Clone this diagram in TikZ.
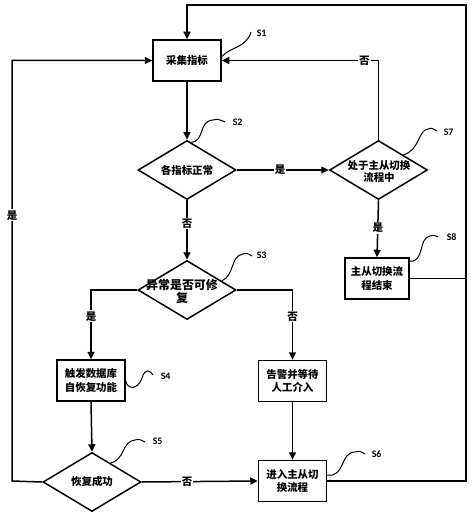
\documentclass[tikz,border=0pt]{standalone}
\usepackage{fontspec}
\newfontfamily\cjk{Noto Sans CJK SC}
\newfontfamily\latinlab{Carlito}
\usetikzlibrary{shapes.geometric,arrows.meta,calc}
\begin{document}
\begin{tikzpicture}[x=1bp,y=-1bp,
  line width=1.5bp,
  box/.style={draw, rectangle, minimum width=68bp, minimum height=41bp, inner sep=0pt, align=center, font=\cjk\bfseries\fontsize{10.5}{13.5}\selectfont},
  dia/.style={draw, diamond, minimum width=98bp, minimum height=59bp, inner sep=0pt},
  dtxt/.style={align=center, inner sep=0pt, font=\cjk\bfseries\fontsize{10.5}{13}\selectfont},
  arr/.style={-{Triangle[length=7.5bp,width=7bp]}},
  yn/.style={fill=white, inner sep=1bp, font=\cjk\bfseries\fontsize{10.5}{12}\selectfont},
  tag/.style={anchor=west, inner sep=0pt, font=\latinlab\bfseries\fontsize{10}{11}\selectfont},
  lead/.style={line width=1bp}
]
\useasboundingbox (0,0) rectangle (474,515);
\fill[white] (0,0) rectangle (474,515);

% nodes
\node[box] (s1) at (187,60.5) {采集指标};
\node[dia] (s2) at (187,170) {};
\node[dtxt] at (s2) {各指标正常};
\node[dia] (s7) at (378.5,170) {};
\node[dtxt] at (379,171.5) {处于主从切换\\流程中};
\node[box, minimum width=64bp] (s8) at (377,278.5) {主从切换流\\程结束};
\node[dia] (s3) at (187,290) {};
\node[dtxt, font=\cjk\bfseries\fontsize{12}{13}\selectfont] at (182,291.5) {异常是否可修\\复};
\node[box] (s4) at (91,380.5) {触发数据库\\自恢复功能};
\node[box] (s9) at (292.5,381) {告警并等待\\人工介入};
\node[dia] (s5) at (92,482) {};
\node[dtxt] at (s5) {恢复成功};
\node[box] (s6) at (292.5,481) {进入主从切\\换流程};

% helper coordinates
\coordinate (lc) at (12,481);
\coordinate (rc) at (466,481);
\coordinate (tc) at (466,5);

% connectors
\draw[arr] (s1.south) -- (s2.north);
\draw[arr] (s2.east) -- node[yn, pos=0.47]{是} (s7.west);
\draw[arr] (s7.north) |- node[yn, pos=0.545]{否} (s1.east);
\draw[arr] (s7.south) -- node[yn, pos=0.49]{是} (s8.north);
\draw (s8.east) -- (s8.east -| rc);
\draw[arr] (s2.south) -- node[yn, pos=0.39]{否} (s3.north);
\draw[arr] (s3.west) -| node[yn, pos=0.69]{是} (s4.north);
\draw[arr] (s3.east) -| node[yn, pos=0.69]{否} (s9.north);
\draw[arr] (s4.south) -- (s5.north);
\draw[arr] (s9.south) -- (s6.north);
\draw[arr] (s5.east) -- node[yn, pos=0.39]{否} (s6.west);
\draw[arr] (s5.west) -- (lc) |- node[yn, pos=0.316]{是} (s1.west);
\draw[arr] (s6.east) -- (rc) -- (tc) -| (s1.north);

% step tags with leader curves
\draw[lead] ($(s1.east)+(0,-4)$) .. controls (232,46) and (246,48) .. (251,32);
\node[tag] (t1) at (256,33) {S1};
\draw[lead] ($(s2.north)!0.08!(s2.east)$) .. controls (205,142) and (198,121) .. (213,120) .. controls (218,119) .. (225,122);
\node[tag] (t2) at (232,122) {S2};
\draw[lead] (s7.north east) .. controls (420,150) and (418,130) .. (428,129) .. controls (432,128) .. (437,131);
\node[tag] (t7) at (443,132) {S7};
\draw[lead] ($(s8.north east)+(0,4)$) .. controls (425,262) and (418,238) .. (430,236) .. controls (434,235) .. (438,237);
\node[tag] (t8) at (446,237) {S8};
\draw[lead] ($(s3.north)!0.7!(s3.east)$) .. controls (235,275) and (230,256) .. (243,254) .. controls (247,253) .. (252,256);
\node[tag] (t3) at (256,255) {S3};
\draw[lead] (s4.east) .. controls (127,390) and (138,390) .. (142,378) .. controls (145,368) and (150,370) .. (153,375);
\node[tag] (t4) at (160,376) {S4};
\draw[lead] ($(s5.north)!0.37!(s5.east)$) .. controls (125,460) and (122,441) .. (135,440) .. controls (139,439) .. (145,442);
\node[tag] (t5) at (152,441) {S5};
\draw[lead] ($(s6.east)+(0,-6)$) .. controls (345,478) and (340,452) .. (355,452) .. controls (360,451) .. (365,454);
\node[tag] (t6) at (371,454) {S6};
\end{tikzpicture}
\end{document}
